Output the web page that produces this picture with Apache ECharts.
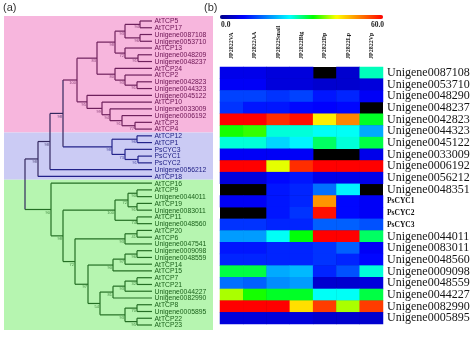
<!DOCTYPE html>
<html><head><meta charset="utf-8">
<script src="https://cdn.jsdelivr.net/npm/echarts/dist/echarts.min.js"></script>
<style>html,body{margin:0;padding:0;background:#fff}#c{width:474px;height:338px}</style>
</head><body><div id="c"></div>
<script>
// ---------- DATA ----------
// Phylogenetic tree (Newick, branch lengths, internal labels = bootstrap support)
const treeNewick =
 "((((((((((AtTCP5:12,AtTCP17:12)94:15,(Unigene0087108:12,Unigene0053710:12)96:15)93:10," +
 "(AtTCP13:27,(Unigene0048209:14,Unigene0048237:14)91:13)72:10)98:18," +
 "(AtTCP24:37,(AtTCP2:27,(Unigene0042823:15,Unigene0044323:15)91:12)93:10)80:18)83:20," +
 "(Unigene0045122:65,(AtTCP10:50,(Unigene0033009:42,(Unigene0006192:30,(AtTCP3:17,AtTCP4:17)77:13)91:12)94:8)99:15)95:10)100:14," +
 "((AtTCP12:15,AtTCP1:15)96:25,(PsCYC3:27,(PsCYC1:14,PsCYC2:14)91:13)73:13)98:49)98:13," +
 "Unigene0056212:102)98:12,AtTCP18:114)98:13," +
 "(AtTCP16:101,((((AtTCP9:15,Unigene0044011:15)90:9,(AtTCP19:15,Unigene0083011:15)91:9)72:13," +
 "(AtTCP11:15,Unigene0048560:15)74:22)100:52," +
 "(((AtTCP20:15,AtTCP6:15)41:12,Unigene0047541:27)93:50," +
 "((((Unigene0009098:15,Unigene0048559:15)96:12,AtTCP14:27)97:12,AtTCP15:39)90:25," +
 "((((AtTCP7:15,AtTCP21:15)32:12,Unigene0044227:27)93:12,Unigene0082990:39)81:13," +
 "((AtTCP8:15,Unigene0005895:15)70:12,(AtTCP22:15,AtTCP23:15)95:12)93:25)54:12)97:13)72:12)98:12)90:26);";
const groupNames = ['CIN', 'CYC', 'PCF'];
const groupSizes = [17, 7, 22];

const heatColumns = ['JP2822VA', 'JP2822AA', 'JP2822Small', 'JP2822Big', 'JP2822Dp', 'JP2822Lp', 'JP2822Vp'];
const heatRows = ['Unigene0087108', 'Unigene0053710', 'Unigene0048290', 'Unigene0048237', 'Unigene0042823',
  'Unigene0044323', 'Unigene0045122', 'Unigene0033009', 'Unigene0006192', 'Unigene0056212', 'Unigene0048351',
  'PsCYC1', 'PsCYC2', 'PsCYC3', 'Unigene0044011', 'Unigene0083011', 'Unigene0048560', 'Unigene0009098',
  'Unigene0048559', 'Unigene0044227', 'Unigene0082990', 'Unigene0005895'];
// null = no expression value (drawn black)
const heatValues = [
  [7, 7, 6, 6, null, 5, 28],
  [8, 8, 6, 6, 5, 5, 6],
  [13, 13, 12, 13, 10, 11, 8],
  [12, 10, 10, 9, 8.5, 9, null],
  [60, 60, 57, 59, 44, 51, 33],
  [35, 36, 27, 27, 26, 26, 20],
  [27, 27, 23, 25, 31, 27, 32],
  [8, 8, 8, 8, null, null, 7],
  [60, 60, 42, 57, 60, 60, 60],
  [6, 6, 9, 10, 7, 7, 7],
  [null, null, 10, 11, 16, 25, null],
  [8, 8, 10, 11, 50, 9, 8],
  [null, null, 10, 12, 59, 9, 8],
  [12, 12, 11, 11, 15, 15, 14],
  [19, 19, 26, 34, 60, 60, 31],
  [10, 10, 11, 11, 12, 15, 8],
  [11, 11, 11, 11, 12, 11, 9],
  [32, 32, 20, 21, 11, 14, 27],
  [16, 15, 18, 19, 5, 5, 6],
  [40, 35, 33, 33, 26, 26, 32],
  [60, 60, 60, 45, 56, 40, 56],
  [6, 6, 6, 6, 5, 5, 5]
];
const scaleMin = 0, scaleMax = 60;
const scaleLabels = ['0.0', '60.0'];

// ---------- STYLE ----------
const bandColors = ['#f7b6dd', '#cbcbf4', '#b6f5b0'];
const textColors = ['#6a1252', '#1c1c82', '#195f19'];
const lineColors = ['#6e205c', '#23238a', '#246e24', '#33285e'];
const jet = ['#00008b', '#0000ff', '#0080ff', '#00ffff', '#00ff00', '#ffff00', '#ff8000', '#ff0000'];

// ---------- TREE PARSE / LAYOUT ----------
function parseNewick(s) {
  let i = 0;
  function node() {
    const n = { children: [], name: '', len: 0 };
    if (s[i] === '(') {
      i++;
      n.children.push(node());
      while (s[i] === ',') { i++; n.children.push(node()); }
      i++;
    }
    let nm = '';
    while (i < s.length && !',():;'.includes(s[i])) nm += s[i++];
    n.name = nm;
    if (s[i] === ':') {
      i++; let num = '';
      while (i < s.length && !',();'.includes(s[i])) num += s[i++];
      n.len = parseFloat(num);
    }
    return n;
  }
  return node();
}
const root = parseNewick(treeNewick);
const leaves = [];
const groupOfLeaf = [];
(function () { let k = 0; groupSizes.forEach((sz, g) => { for (let j = 0; j < sz; j++) groupOfLeaf[k++] = g; }); })();
function layout(n, depth) {
  n.depth = depth + n.len;
  if (!n.children.length) {
    n.y = leaves.length; n.group = groupOfLeaf[leaves.length];
    leaves.push(n);
  } else {
    n.children.forEach(c => layout(c, n.depth));
    n.y = (n.children[0].y + n.children[n.children.length - 1].y) / 2;
    const gs = new Set(n.children.map(c => c.group));
    n.group = gs.size === 1 ? n.children[0].group : 3;
  }
}
layout(root, 0);
const maxDepth = Math.max(...leaves.map(l => l.depth));
const segs = [], supports = [];
(function walk(n) {
  if (!n.children.length) return;
  const f = n.children[0], l = n.children[n.children.length - 1];
  segs.push([n.depth, f.y, n.depth, l.y, n.group]);
  n.children.forEach(c => { segs.push([n.depth, c.y, c.depth, c.y, c.group]); walk(c); });
  if (n.name) supports.push([n.depth, n.y, n.name, n.group]);
})(root);
const leafData = leaves.map(l => [l.depth, l.y, l.name, l.group]);
const bands = []; (function () { let s = 0; groupSizes.forEach((sz, g) => { bands.push([g, s, s + sz - 1]); s += sz; }); })();

const heatData = [];
heatValues.forEach((row, r) => row.forEach((v, c) => { if (v !== null) heatData.push([c, r, v]); }));

// ---------- CHART ----------
const chart = echarts.init(document.getElementById('c'), null, { renderer: 'canvas' });
const nLeaves = leaves.length;
chart.setOption({
  animation: false,
  backgroundColor: '#fff',
  grid: [
    { left: 25, top: 21, width: 127, height: 304 },
    { left: 220, top: 67, width: 163, height: 257, show: true, backgroundColor: '#000', borderWidth: 0 }
  ],
  xAxis: [
    { gridIndex: 0, type: 'value', min: 0, max: maxDepth, show: false },
    { gridIndex: 1, type: 'category', data: heatColumns, position: 'top',
      axisLine: { show: false }, axisTick: { show: false }, splitLine: { show: false },
      axisLabel: { interval: 0, rotate: -90, margin: 8, fontSize: 6, fontWeight: 'bold', fontFamily: 'Liberation Serif', color: '#222' } }
  ],
  yAxis: [
    { gridIndex: 0, type: 'value', min: 0, max: nLeaves - 1, inverse: true, show: false },
    { gridIndex: 1, type: 'category', data: heatRows, inverse: true, position: 'right',
      axisLine: { show: false }, axisTick: { show: false }, splitLine: { show: false },
      axisLabel: { interval: 0, margin: 4, fontSize: 12, fontFamily: 'Liberation Serif', color: '#151515',
        formatter: v => v.startsWith('Ps') ? '{ps|' + v + '}' : v,
        rich: { ps: { fontSize: 7.5, fontWeight: 'bold', fontFamily: 'Liberation Serif', color: '#111' } } } }
  ],
  visualMap: {
    type: 'continuous', min: scaleMin, max: scaleMax, seriesIndex: 4, orient: 'horizontal',
    left: 220, top: 15, itemWidth: 4, itemHeight: 163, padding: 0, calculable: false, text: null,
    showLabel: false, inRange: { color: jet }, hoverLink: false
  },
  graphic: [
    { type: 'text', left: 3, top: 2, style: { text: '(a)', fontSize: 11, fontFamily: 'Liberation Sans', fill: '#333' } },
    { type: 'text', left: 204, top: 2, style: { text: '(b)', fontSize: 11, fontFamily: 'Liberation Sans', fill: '#333' } },
    { type: 'text', left: 221, top: 21, style: { text: scaleLabels[0], fontSize: 7.5, fontWeight: 'bold', fontFamily: 'Liberation Serif', fill: '#222' } },
    { type: 'text', right: 474 - 384, top: 21, style: { text: scaleLabels[1], fontSize: 7.5, fontWeight: 'bold', fontFamily: 'Liberation Serif', fill: '#222' } },
    { type: 'text', left: 8, top: 70, style: { text: groupNames[0], fontSize: 14, fontFamily: 'Liberation Sans', fill: '#333' } },
    { type: 'text', left: 8, top: 147, style: { text: groupNames[1], fontSize: 14, fontFamily: 'Liberation Sans', fill: '#333' } },
    { type: 'text', left: 9, top: 254, style: { text: groupNames[2], fontSize: 14, fontFamily: 'Liberation Sans', fill: '#333' } }
  ],
  series: [
    { // background bands
      type: 'custom', xAxisIndex: 0, yAxisIndex: 0, silent: true, z: 0, data: bands,
      encode: { x: -1, y: [1, 2] }, clip: false,
      renderItem(params, api) {
        const g = api.value(0), s = api.value(1), e = api.value(2);
        const y0 = api.coord([0, s === 0 ? s - 0.75 : s - 0.5])[1];
        const y1 = api.coord([0, e === nLeaves - 1 ? e + 0.75 : e + 0.5])[1];
        return { type: 'rect', shape: { x: 4, y: y0, width: 209, height: y1 - y0 }, style: { fill: bandColors[g] } };
      }
    },
    { // branches
      type: 'custom', xAxisIndex: 0, yAxisIndex: 0, silent: true, z: 2, data: segs, clip: false,
      encode: { x: [0, 2], y: [1, 3] },
      renderItem(params, api) {
        const p1 = api.coord([api.value(0), api.value(1)]);
        const p2 = api.coord([api.value(2), api.value(3)]);
        return { type: 'line', shape: { x1: p1[0], y1: p1[1], x2: p2[0], y2: p2[1] },
          style: { stroke: lineColors[api.value(4)], lineWidth: 1.2 } };
      }
    },
    { // leaf labels
      type: 'custom', xAxisIndex: 0, yAxisIndex: 0, silent: true, z: 3, data: leafData, clip: false,
      encode: { x: 0, y: 1 },
      renderItem(params, api) {
        const d = leafData[params.dataIndex];
        const p = api.coord([d[0], d[1]]);
        return { type: 'text', x: p[0] + 2.5, y: p[1] + 0.5,
          style: { text: d[2], fill: textColors[d[3]], fontSize: 6.8, fontFamily: 'Liberation Sans', verticalAlign: 'middle', align: 'left' } };
      }
    },
    { // bootstrap support
      type: 'custom', xAxisIndex: 0, yAxisIndex: 0, silent: true, z: 3, data: supports, clip: false,
      encode: { x: 0, y: 1 },
      renderItem(params, api) {
        const d = supports[params.dataIndex];
        const p = api.coord([d[0], d[1]]);
        return { type: 'text', x: p[0] - 1, y: p[1] + 1,
          style: { text: d[2], fill: lineColors[d[3]], fontSize: 4, fontFamily: 'Liberation Sans', verticalAlign: 'top', align: 'right', opacity: 0.8 } };
      }
    },
    { // heatmap
      type: 'heatmap', xAxisIndex: 1, yAxisIndex: 1, data: heatData, silent: true,
      itemStyle: { borderWidth: 0 }, emphasis: { disabled: true }
    }
  ]
});
</script></body></html>
